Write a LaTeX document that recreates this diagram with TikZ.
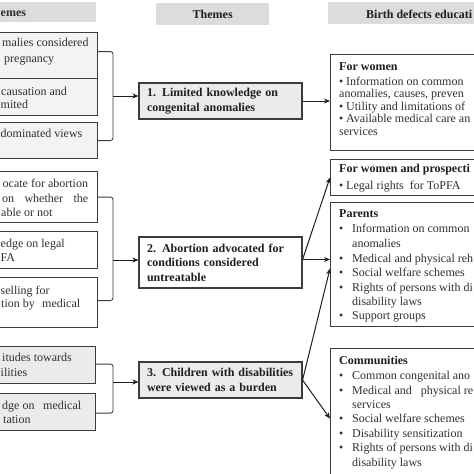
\documentclass[tikz,border=0pt]{standalone}
\usepackage{fontspec}
\setmainfont{Liberation Serif}
\usetikzlibrary{arrows.meta}
\definecolor{hdrfill}{HTML}{DCDCDC}
\definecolor{edge}{HTML}{3C3C3C}
\definecolor{fillA}{HTML}{F3F3F3}
\definecolor{fillB}{HTML}{EBEBEB}
\definecolor{ink}{HTML}{1E1E1E}
\definecolor{txt}{HTML}{303030}
\begin{document}
\begin{tikzpicture}[x=1pt,y=-1pt,
  every node/.style={font=\fontsize{12}{14}\selectfont, text=txt},
  hdr/.style={fill=hdrfill, draw=none, inner sep=0, anchor=north west},
  box/.style={draw=edge, line width=1.1pt, inner sep=0, anchor=north west},
  theme/.style={draw=edge, line width=1.1pt, anchor=center, text width=147pt, inner xsep=8pt, inner ysep=0pt,
     minimum height=36pt, align=left, text=ink, font=\fontsize{12}{14.5}\selectfont\bfseries},
  tx/.style={inner sep=0, text height=8pt, text depth=0pt, anchor=west},
  brk/.style={draw=edge, line width=0.9pt, rounded corners=2.5pt},
  arr/.style={draw=ink, line width=1pt, -{Stealth[length=6pt,width=5pt]}}
]
\useasboundingbox (0,0) rectangle (474,474);
\fill[white] (0,0) rectangle (474,474);
\clip (0,0) rectangle (474,474);

% headers
\node[hdr, minimum width=106, minimum height=20] (H1) at (-10,2) {};
\node[tx] (H1t) at (0.5,12) {\bfseries emes};
\node[hdr, minimum width=113, minimum height=22, text=ink] (H2) at (156,3) {\bfseries Themes};
\node[hdr, minimum width=152, minimum height=22] (H3) at (328,2) {};
\node[tx, text=ink] (H3t) at (366,14) {\bfseries Birth defects educati};

% left boxes
\node[box, fill=fillA, minimum width=107, minimum height=46] (L1) at (-10,32) {};
\node[box, fill=fillA, minimum width=107, minimum height=37] (L2) at (-10,78) {};
\node[box, fill=fillA, minimum width=107, minimum height=36] (L3) at (-10,122) {};
\node[box, fill=white, minimum width=107, minimum height=51] (L4) at (-10,171) {};
\node[box, fill=white, minimum width=107, minimum height=37] (L5) at (-10,231) {};
\node[box, fill=white, minimum width=107, minimum height=50] (L6) at (-10,277) {};
\node[box, fill=fillB, minimum width=105, minimum height=37] (L7) at (-10,346) {};
\node[box, fill=fillB, minimum width=105, minimum height=37] (L8) at (-10,393) {};

% left texts
\node[tx] (L1a) at (2,42) {malies considered};
\node[tx] (L1b) at (4,58) {pregnancy};
\node[tx] (L2a) at (1,91) {causation and};
\node[tx] (L2b) at (0.5,104) {mited};
\node[tx] (L3a) at (0.5,133) {dominated views};
\node[tx] (L4a) at (2.5,183) {ocate for abortion};
\node[tx] (L4b) at (2,198) {\hbox to 86pt{on\hfill whether\hfill the}};
\node[tx] (L4c) at (1,212) {able or not};
\node[tx] (L5a) at (0.5,243) {edge on legal};
\node[tx] (L5b) at (0.5,257) {FA};
\node[tx] (L6a) at (0.5,290) {selling for};
\node[tx] (L6b) at (1,303) {\hbox to 79pt{tion by\hfill medical}};
\node[tx] (L7a) at (2,357) {itudes towards};
\node[tx] (L7b) at (0.5,372) {ilities};
\node[tx] (L8a) at (2,405) {\hbox to 79pt{dge on\hfill medical}};
\node[tx] (L8b) at (3,419) {tation};

% brackets
\coordinate (b1) at (113,96);
\coordinate (b2) at (113,260);
\coordinate (b3) at (113,382);
\draw[brk] ([yshift=4pt]L1.east) -- ([yshift=4pt]L1.east -| b1) -- (L3.east -| b1) -- (L3.east);
\draw[brk] (L4.east) -- (L4.east -| b2) -- ([yshift=2pt]L6.east -| b2) -- ([yshift=2pt]L6.east);
\draw[brk] ([yshift=1pt]L7.east) -- ([yshift=1pt]L7.east -| b3) -- ([yshift=-1pt]L8.east -| b3) -- ([yshift=-1pt]L8.east);

% theme boxes
\node[theme, fill=fillB] (t1) at (220.5,101) {1. Limited knowledge on\\congenital anomalies};
\node[theme, fill=white, minimum height=51pt] (t2) at (220.5,262.5) {2. Abortion advocated for\\conditions considered\\untreatable};
\node[theme, fill=fillB] (t3) at (220.5,380) {3. Children with disabilities\\were viewed as a burden};

\draw[arr] (b1) -- (b1 -| t1.west);
\draw[arr] (b2) -- (b2 -| t2.west);
\draw[arr] (b3) -- (b3 -| t3.west);

% right boxes
\node[box, fill=white, minimum width=150, minimum height=96] (R1) at (330,54) {};
\node[box, fill=white, minimum width=150, minimum height=36] (R2) at (330,159) {};
\node[box, fill=white, minimum width=150, minimum height=124] (R3) at (330,202) {};
\node[box, fill=white, minimum width=150, minimum height=132] (R4) at (330,348) {};

% right arrows
\coordinate (s2) at ([yshift=3pt]t2.east);
\draw[arr] (t1.east) -- (t1.east -| R1.west);
\draw[arr] (s2) -- (R2.west);
\draw[arr] (s2) -- (s2 -| R3.west);
\draw[arr] (t3.east) -- ([yshift=-4pt]R3.west);
\draw[arr] (t3.east) -- ([yshift=-4pt]R4.west);

% right texts: box 1
\node[tx, text=ink] (R1h) at (339,66.5) {\bfseries For women};
\node[tx] (R1b1) at (339,81) {•};
\node[tx] (R1l1) at (346,81) {Information on common};
\node[tx] (R1l2) at (339,93.5) {anomalies, causes, preven};
\node[tx] (R1b3) at (339,106) {•};
\node[tx] (R1l3) at (346,106) {Utility and limitations of};
\node[tx] (R1b4) at (339,118.5) {•};
\node[tx] (R1l4) at (346,118.5) {Available medical care an};
\node[tx] (R1l5) at (339,131) {services};

% box 2
\node[tx, text=ink] (R2h) at (339,168) {\bfseries For women and prospecti};
\node[tx] (R2b1) at (339,185) {•};
\node[tx] (R2l1) at (346,185) {Legal rights\ \ for ToPFA};

% box 3
\node[tx, text=ink] (R3h) at (339,213) {\bfseries Parents};
\node[tx] (R3b1) at (339,228) {•};
\node[tx] (R3l1) at (352,228) {Information on common};
\node[tx] (R3l2) at (352,243) {anomalies};
\node[tx] (R3b3) at (339,258) {•};
\node[tx] (R3l3) at (352,258) {Medical and physical reh};
\node[tx] (R3b4) at (339,272) {•};
\node[tx] (R3l4) at (352,272) {Social welfare schemes};
\node[tx] (R3b5) at (339,287) {•};
\node[tx] (R3l5) at (352,287) {Rights of persons with di};
\node[tx] (R3l6) at (352,301) {disability laws};
\node[tx] (R3b7) at (339,315) {•};
\node[tx] (R3l7) at (352,315) {Support groups};

% box 4
\node[tx, text=ink] (R4h) at (339,360) {\bfseries Communities};
\node[tx] (R4b1) at (339,375) {•};
\node[tx] (R4l1) at (352,375) {Common congenital ano};
\node[tx] (R4b2) at (339,390) {•};
\node[tx] (R4l2) at (352,390) {Medical and\ \ \ physical re};
\node[tx] (R4l3) at (352,404) {services};
\node[tx] (R4b4) at (339,418) {•};
\node[tx] (R4l4) at (352,418) {Social welfare schemes};
\node[tx] (R4b5) at (339,433) {•};
\node[tx] (R4l5) at (352,433) {Disability sensitization};
\node[tx] (R4b6) at (339,447) {•};
\node[tx] (R4l6) at (352,447) {Rights of persons with di};
\node[tx] (R4l7) at (352,462) {disability laws};
\end{tikzpicture}
\end{document}
